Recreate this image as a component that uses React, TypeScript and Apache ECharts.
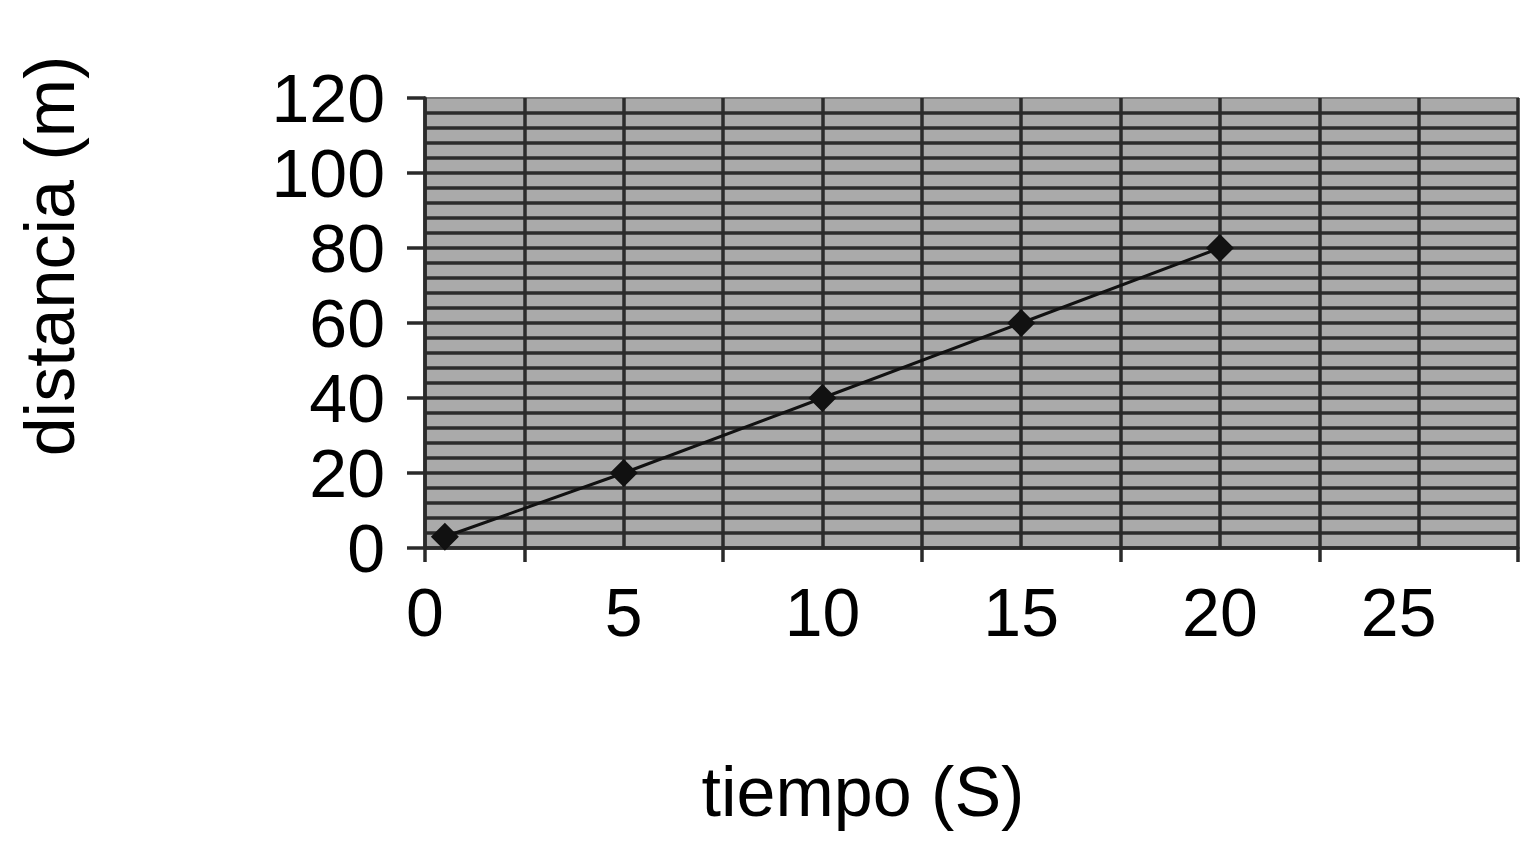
import { useEffect, useRef } from 'react';
import * as echarts from 'echarts';

// tiempo (s) vs distancia (m)
const tiempo = [0.5, 5, 10, 15, 20];
const distancia = [3, 20, 40, 60, 80];

const xLabelValues = [0, 5, 10, 15, 20, 25];
const xTickValues = [0, 2.5, 7.5, 12.5, 17.5, 22.5, 27.5];
const yLabelValues = [0, 20, 40, 60, 80, 100, 120];

const FONT = '"Liberation Sans", Arial, sans-serif';
const DARK = '#2b2b2b';

export default function App() {
  const chartRef = useRef<HTMLDivElement>(null);

  useEffect(() => {
    if (!chartRef.current) return;
    const chart = echarts.init(chartRef.current, undefined, { renderer: 'svg' });

    const points = tiempo.map((t, i) => [t, distancia[i]]);

    chart.setOption({
      animation: false,
      grid: {
        left: 425,
        top: 98,
        right: 18,
        bottom: 294,
        show: true,
        backgroundColor: '#aaaaaa',
        borderColor: '#7a7a7a',
        borderWidth: 2,
      },
      xAxis: [
        {
          type: 'value',
          position: 'bottom',
          min: 0,
          max: 27.5,
          interval: 5,
          axisLine: { show: true, lineStyle: { color: DARK, width: 3.5 } },
          axisTick: { show: false },
          splitLine: { show: false },
          axisLabel: {
            color: '#000',
            fontSize: 68,
            fontFamily: FONT,
            margin: 30,
            formatter: (v: number) => {
              if (!xLabelValues.includes(v)) return '';
              return v === 25 ? `{s|${v}}` : String(v);
            },
            rich: {
              s: { fontSize: 68, fontFamily: FONT, color: '#000', padding: [0, 40, 0, 0] },
            },
          },
        },
        {
          type: 'value',
          position: 'bottom',
          min: 0,
          max: 27.5,
          interval: 2.5,
          axisLine: { show: false },
          axisTick: { show: false },
          axisLabel: { show: false },
          splitLine: { show: true, lineStyle: { color: DARK, width: 3.5 } },
        },
        {
          type: 'value',
          position: 'bottom',
          min: 0,
          max: 27.5,
          axisLine: { show: false },
          axisLabel: { show: false },
          splitLine: { show: false },
          axisTick: {
            show: true,
            customValues: xTickValues,
            length: 14,
            lineStyle: { color: DARK, width: 3.5 },
          },
        },
      ],
      yAxis: [
        {
          type: 'value',
          position: 'left',
          min: 0,
          max: 120,
          interval: 20,
          axisLine: { show: true, lineStyle: { color: DARK, width: 3.5 } },
          axisTick: { show: true, length: 18, lineStyle: { color: DARK, width: 3.5 } },
          splitLine: { show: false },
          axisLabel: {
            color: '#000',
            fontSize: 68,
            fontFamily: FONT,
            margin: 40,
            formatter: (v: number) => (yLabelValues.includes(v) ? String(v) : ''),
          },
        },
        {
          type: 'value',
          position: 'left',
          min: 0,
          max: 120,
          interval: 4,
          axisLine: { show: false },
          axisTick: { show: false },
          axisLabel: { show: false },
          splitLine: { show: true, showMaxLine: false, lineStyle: { color: DARK, width: 3.5 } },
        },
      ],
      series: [
        {
          type: 'line',
          xAxisIndex: 0,
          yAxisIndex: 0,
          data: points,
          symbol: 'diamond',
          symbolSize: 28,
          itemStyle: { color: '#111' },
          lineStyle: { color: '#111', width: 3 },
          z: 5,
        },
      ],
      graphic: [
        {
          type: 'text',
          x: 50,
          y: 256,
          rotation: Math.PI / 2,
          style: {
            text: 'distancia (m)',
            fontSize: 70,
            fontFamily: FONT,
            fill: '#000',
            align: 'center',
            verticalAlign: 'middle',
          },
        },
        {
          type: 'text',
          x: 863,
          y: 792,
          style: {
            text: 'tiempo (S)',
            fontSize: 70,
            fontFamily: FONT,
            fill: '#000',
            align: 'center',
            verticalAlign: 'middle',
          },
        },
      ],
    });

    return () => chart.dispose();
  }, []);

  return (
    <div
      ref={chartRef}
      style={{ position: 'fixed', left: 0, top: 0, width: '1536px', height: '842px', background: '#fff' }}
    />
  );
}
